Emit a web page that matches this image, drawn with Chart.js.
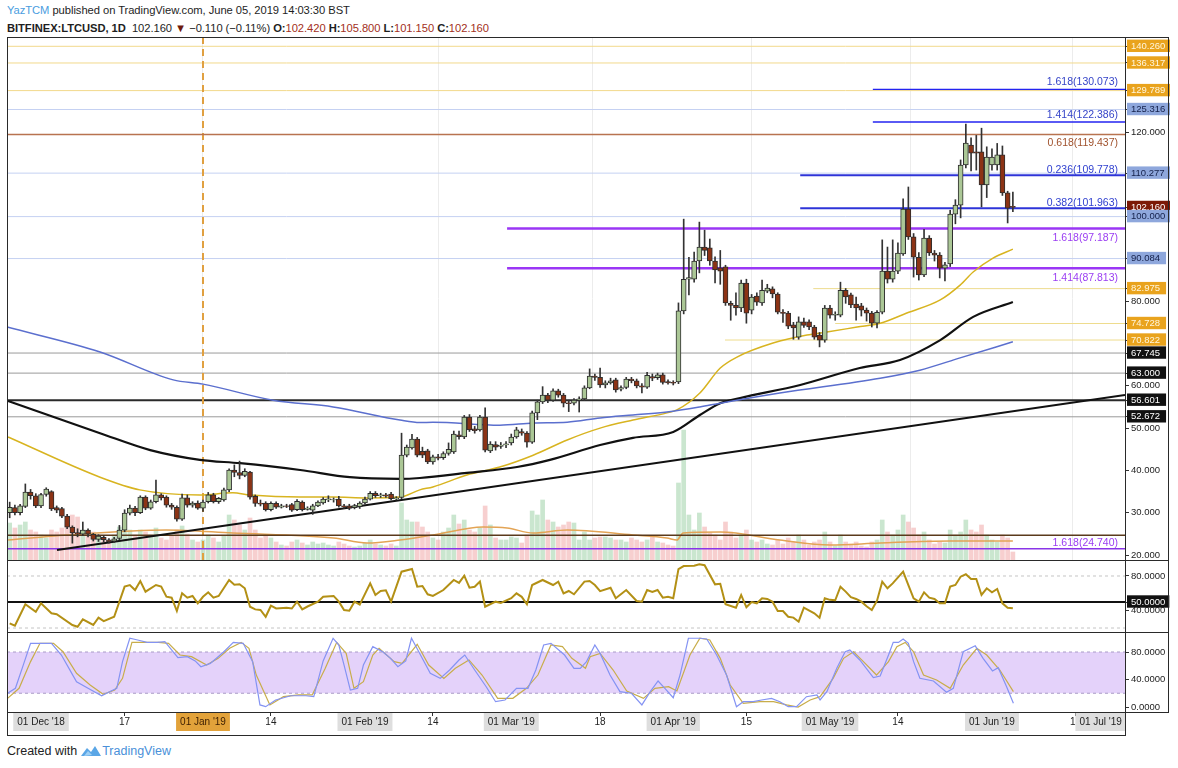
<!DOCTYPE html>
<html>
<head>
<meta charset="utf-8">
<title>LTCUSD 1D</title>
<script src="https://cdn.jsdelivr.net/npm/chart.js@4.4.1/dist/chart.umd.min.js"></script>
<style>
html,body{margin:0;padding:0;background:#fff;}
body{width:1178px;height:768px;position:relative;overflow:hidden;font-family:"Liberation Sans",Arial,sans-serif;}
.hdr{position:absolute;left:7px;white-space:nowrap;color:#1e1e1e;font-size:11.2px;line-height:14px;letter-spacing:-0.05px;}
#h1{top:3px;}
#h2{top:21px;}
.r{color:#a3301c;}
canvas{position:absolute;left:0;}
.ln{position:absolute;background:#2a2a2a;z-index:5;}
#foot{position:absolute;left:7px;top:743px;font-size:12.5px;color:#222;white-space:nowrap;line-height:16px;}
#foot svg{vertical-align:-3px;margin-left:3px;}
</style>
</head>
<body>
<div id="h1" class="hdr"><span style="color:#4a9de0">YazTCM</span> published on TradingView.com, June 05, 2019 14:03:30 BST</div>
<div id="h2" class="hdr"><b>BITFINEX:LTCUSD, 1D</b>&nbsp; 102.160 <span style="color:#6e1a0c">&#9660;</span> &minus;0.110 (&minus;0.11%) <b>O:</b><span class="r">102.420</span> <b>H:</b><span class="r">105.800</span> <b>L:</b><span class="r">101.150</span> <b>C:</b><span class="r">102.160</span></div>

<canvas id="cp" width="1178" height="523" style="top:37px"></canvas>
<canvas id="cr" width="1178" height="72" style="top:560px"></canvas>
<canvas id="cs" width="1178" height="103" style="top:632px"></canvas>

<div class="ln" style="left:7px;top:37px;width:1162px;height:1px"></div>
<div class="ln" style="left:7px;top:37px;width:1px;height:699px"></div>
<div class="ln" style="left:1168px;top:37px;width:1px;height:676px"></div>
<div class="ln" style="left:1125px;top:37px;width:1px;height:699px"></div>
<div class="ln" style="left:7px;top:560px;width:1162px;height:1px"></div>
<div class="ln" style="left:7px;top:632px;width:1162px;height:1px"></div>
<div class="ln" style="left:7px;top:712px;width:1162px;height:1px"></div>
<div class="ln" style="left:7px;top:735px;width:1119px;height:1px"></div>

<div id="foot">Created with<svg width="22" height="14" viewBox="0 0 22 14"><path d="M1 12 L7 4 L11 8 L15 2 L21 12 Z" fill="#5aa6e6"/><path d="M4 12 L8 7 L12 11 Z" fill="#9fd0f5"/></svg><span style="color:#4a90d9">TradingView</span></div>

<script>
// ---------------- DATA ----------------
// day index 0 = 01 Dec 2018; first candle = 25 Nov 2018 (day -6)
const FIRST_DAY = -6;
const open = [
30.0,31.2,30.0,31.5,34.9,34.0,31.6,34.3,35.0,31.2,31.0,29.2,26.6,25.3,24.9,25.9,24.9,23.7,24.2,23.6,23.3,23.9,25.9,29.9,31.1,30.0,33.7,31.1,32.6,34.2,33.7,31.8,31.3,28.5,33.5,31.8,32.3,31.1,32.6,34.2,32.6,33.0,35.4,40.1,39.5,38.8,39.6,33.9,32.3,32.3,30.7,32.2,31.3,31.6,31.9,30.7,32.5,30.8,30.6,31.6,32.3,33.0,33.0,33.2,31.6,31.6,31.2,31.4,32.3,33.2,34.6,34.0,34.2,34.4,33.3,33.6,43.6,45.3,47.4,44.5,44.6,42.0,43.2,43.0,44.0,44.4,48.4,47.9,52.6,49.8,49.6,52.6,44.6,46.1,45.7,46.0,46.5,47.9,49.2,48.8,46.7,53.6,56.2,57.8,56.6,58.8,57.8,56.0,55.9,56.6,56.9,59.5,62.3,62.0,60.2,60.7,61.4,59.2,59.6,61.6,61.2,60.0,59.7,62.2,61.9,62.6,61.0,60.8,60.9,77.7,85.2,85.2,89.5,92.8,92.6,89.5,87.9,88.1,79.5,79.0,78.4,84.3,77.9,81.2,79.6,82.4,82.9,81.7,77.4,77.2,74.4,71.5,75.1,75.1,73.9,72.0,70.8,78.4,76.7,76.7,82.6,81.5,79.3,78.9,77.9,77.2,74.8,77.4,87.1,85.2,87.1,91.2,101.8,95.2,90.4,86.2,94.9,91.4,90.9,87.8,88.8,100.6,102.7,112.2,116.9,115.3,115.3,107.5,112.2,112.2,114.6,105.6,102.42];
const high = [
32.5,31.8,32.0,36.8,35.5,34.5,34.6,35.9,35.2,31.6,31.3,29.6,26.9,26.2,27.8,26.2,25.1,24.8,24.6,23.9,24.2,27.0,30.7,31.8,31.5,34.0,34.0,33.0,37.7,34.5,34.0,32.2,31.6,34.4,34.2,32.6,32.8,33.0,34.8,34.6,33.6,35.8,40.4,41.3,42.2,40.4,39.8,34.2,33.0,32.6,32.6,32.6,32.0,32.0,32.2,33.1,32.8,31.4,32.0,32.8,33.6,34.0,33.5,33.9,32.0,32.0,32.0,32.6,33.7,35.0,35.0,34.6,34.6,34.8,33.8,48.8,46.0,48.5,47.8,45.5,45.0,43.6,43.8,44.4,46.5,49.3,49.3,53.0,53.2,50.4,53.0,54.8,46.8,46.8,46.6,46.8,48.6,50.2,49.8,49.2,54.0,56.6,59.8,58.2,59.3,59.2,58.2,56.6,57.0,57.4,60.0,64.0,62.8,64.2,61.2,61.8,61.8,60.0,62.0,62.0,61.6,60.5,63.2,62.8,63.0,63.0,61.4,61.2,79.6,99.4,90.4,91.6,98.7,96.8,94.7,90.5,92.0,88.5,80.0,82.0,85.0,85.2,81.6,82.0,85.0,84.0,83.4,82.0,78.0,77.6,75.0,76.3,76.0,75.6,74.3,72.6,79.0,79.0,77.5,84.5,83.0,81.9,81.0,79.5,78.4,77.6,77.8,94.5,92.8,94.5,93.8,104.2,107.0,96.0,91.5,97.0,95.5,92.0,91.5,89.2,101.5,104.0,113.4,121.9,118.6,119.2,120.9,116.5,116.0,117.3,116.7,106.0,105.8];
const low = [
28.8,29.5,29.5,31.2,33.2,31.2,31.2,33.9,30.5,30.0,28.8,26.2,22.8,24.3,24.6,24.3,23.3,23.2,23.1,22.8,23.0,23.6,25.5,29.5,29.3,29.8,30.7,30.8,32.3,33.0,31.3,30.8,28.0,28.2,31.3,31.3,30.8,30.3,32.3,32.3,32.2,32.7,35.0,38.5,38.0,38.5,33.2,31.5,31.6,30.4,30.4,31.0,31.1,31.2,30.3,30.5,30.4,30.6,29.6,31.4,32.0,32.6,32.5,31.3,31.0,30.7,30.9,31.0,32.0,33.0,33.6,33.6,33.6,33.0,33.0,33.3,43.2,45.0,43.2,43.0,41.6,41.5,42.5,42.6,43.6,44.0,47.4,47.5,49.2,48.8,49.3,44.4,44.2,44.8,45.2,45.4,46.0,47.6,48.3,45.5,46.4,52.0,55.8,56.0,56.3,57.3,55.0,53.9,55.5,53.8,56.5,59.3,61.3,59.6,59.5,60.4,58.5,58.8,59.3,60.7,59.5,58.3,59.4,61.2,61.5,60.4,60.4,60.2,60.5,77.0,81.5,84.5,86.7,90.8,88.5,84.3,84.0,79.0,75.5,76.7,77.5,74.8,77.0,79.0,79.0,82.0,80.8,77.0,75.0,73.5,71.0,71.0,73.8,73.3,71.0,69.2,70.3,76.0,75.5,76.3,79.5,78.5,75.5,76.5,75.3,73.9,73.7,77.0,84.3,84.5,86.5,90.8,94.6,85.7,85.0,85.8,90.8,89.5,85.5,84.8,88.2,98.3,99.7,111.5,110.8,111.0,102.3,104.5,111.0,111.0,105.0,98.5,101.15];
const close = [
31.3,30.0,31.6,34.9,34.0,31.6,34.3,35.6,30.9,30.6,29.2,26.6,25.2,24.9,25.9,24.9,23.7,24.5,23.6,23.1,23.8,25.9,29.9,31.1,30.0,33.7,31.1,32.6,34.2,33.5,31.8,31.3,28.5,33.5,31.8,32.3,31.1,32.5,34.2,32.6,33.4,35.4,40.1,39.5,38.8,39.8,33.7,32.2,32.0,30.7,32.2,31.3,31.6,31.5,30.6,32.7,30.7,31.1,31.6,32.5,33.2,33.3,33.1,31.6,31.4,31.1,31.7,32.3,33.2,34.6,34.0,34.2,33.9,33.3,33.5,43.6,45.5,47.4,43.6,43.6,42.0,43.2,42.9,44.0,45.0,48.6,48.0,52.6,49.6,49.4,52.6,44.8,46.2,45.5,46.0,46.3,47.9,49.6,48.8,46.7,53.6,56.2,57.8,56.6,58.8,57.8,55.9,55.8,56.6,56.9,59.5,62.3,62.0,60.2,60.7,61.2,59.0,59.6,61.6,61.2,60.0,59.7,62.5,61.8,62.6,60.8,60.7,60.6,77.7,85.2,85.6,89.5,92.8,92.0,89.5,87.4,87.1,79.6,79.0,78.4,84.3,77.2,81.0,79.8,82.6,83.1,81.7,77.4,77.1,74.1,73.7,75.1,74.3,73.9,71.5,70.8,78.4,76.7,76.9,82.6,81.0,79.1,78.4,77.9,77.2,74.8,77.4,87.1,85.2,87.1,91.4,101.8,95.2,90.4,86.2,94.9,91.4,90.9,87.8,88.6,100.6,102.7,112.2,117.4,115.0,115.0,107.5,114.1,114.1,114.6,105.6,102.0,102.16];
const volume = [
37,32,35,38,30,28,25,
22,30,28,32,40,45,43,30,25,28,
22,20,18,25,33,35,30,25,30,28,
25,32,22,20,24,30,34,26,20,18,
20,25,22,18,24,45,40,35,30,42,
30,22,25,22,18,15,14,18,20,17,
15,18,16,17,15,14,18,16,14,13,
14,17,20,16,15,14,16,14,57,40,
38,38,33,28,22,20,28,32,45,36,
40,30,28,32,54,35,22,20,20,23,
22,17,25,49,45,60,40,38,33,35,
38,37,20,28,20,22,23,23,22,20,
20,18,22,20,18,20,23,18,17,15,
14,77,130,45,30,47,33,27,25,20,
38,28,22,25,30,20,18,20,16,15,
20,16,22,18,25,20,15,18,20,28,
18,14,25,18,16,18,14,13,18,20,
40,28,25,30,45,38,32,25,28,20,
16,18,17,30,25,28,40,30,28,35,
25,20,18,25,22,8];

// moving averages [day, value]
const ma50 = [[-6.3,47.9],[11.3,38.4],[18.9,35.4],[30.4,34.2],[36.7,34.7],[40,34.2],[49.6,33.7],[55.9,33.7],[62.4,33.5],[68.7,33.7],[72.5,35.4],[75,36.1],[81.5,38.9],[87.8,40.8],[94.2,43.6],[100.7,47.2],[107,50.0],[113.3,51.9],[119.8,53.6],[121.7,54.3],[126.1,58.3],[130,64.2],[133.2,66.8],[140.1,70.1],[146.6,72.0],[150.4,72.7],[156.2,73.9],[160.6,74.8],[165.7,77.2],[172.1,80.3],[175.9,83.8],[178.4,86.9],[182.2,90.2],[186,92.3]];
const ma100 = [[-6.3,56.4],[11.3,48.8],[20.9,44.8],[30.4,42.5],[38.1,41.7],[49.6,40.1],[59.1,38.4],[68.7,38.0],[72.5,38.2],[81.5,39.4],[91.1,40.8],[97.4,42.5],[107,46.0],[113.3,47.7],[121,49.1],[126.1,53.1],[130,55.9],[133.8,57.1],[145.3,60.2],[156.7,64.2],[164.4,66.1],[172.1,70.8],[178.4,76.3],[186,79.8]];
const ma200 = [[-6.5,73.9],[11.3,68.0],[25.3,61.4],[31,60.4],[44.4,56.6],[55.9,55.0],[68.7,51.9],[72.5,51.3],[75,51.4],[87.8,50.7],[94.2,51.2],[100.7,51.4],[107,52.4],[113.3,53.1],[119.8,53.8],[126.1,55.0],[130,55.9],[141.4,58.3],[160.6,61.8],[168.2,63.7],[175.9,66.6],[186,70.4]];
const volMa = [[-6.3,20],[5,25],[24,30],[36.7,27],[56,22],[62.4,17],[68.7,20],[75,25],[84.6,33],[89.2,32],[94.2,27],[100.7,30],[113.3,25],[119.8,22],[121.7,20],[122.9,27],[130,28],[141.4,20],[151,15],[160.6,17],[174,19],[186,19]];
const trendline = [[3.06,21.2],[207.46,57.8]];

// horizontal levels (value, first day)
const levelValues = [140.26,136.317,129.789,125.316,110.277,100.0,90.084,82.975,74.728,70.822,67.745,63.0,56.601,52.672,119.437,130.073,122.386,109.778,101.963,97.187,87.813,24.7,21.5];
const levelStart  = [-6.51,-6.51,-6.51,-6.51,-6.51,-6.51,-6.51,147.8,152,130.9,-6.51,-6.51,-6.51,-6.51,-6.51,159.2,159.2,145.3,145.3,89.2,89.2,-6.51,-6.51];
const fibTexts  = ['1.618(130.073)','1.414(122.386)','0.618(119.437)','0.236(109.778)','0.382(101.963)','1.618(97.187)','1.414(87.813)','1.618(24.740)'];
const fibValues = [130.073,122.386,119.437,109.778,101.963,97.187,87.813,21.5];
const JAN1 = 31;

const priceTicks = [140.26,136.317,129.789,125.316,120,110.277,102.16,100,90.084,82.975,80,74.728,70.822,67.745,63,60,56.601,52.672,50,40,30,20];
const rsiTicks = [80,40,50];
const stochTicks = [80,40,0];
const xTickDays = [0,16,31,44,62,75,90,107,121,135,151,164,182,198,202.8];
const xTickLabels = ["01 Dec '18","17","01 Jan '19","14","01 Feb '19","14","01 Mar '19","18","01 Apr '19","15","01 May '19","14","01 Jun '19","17","01 Jul '19"];
const monthGridDays = [0,62,90,121,151,182];

const rsi = [[-6,25.4],[-5,22.7],[-3,47.4],[-1,38.8],[0,48.5],[2,37],[3,36],[6,23.5],[7,21.5],[8,30],[10,23.5],[11,31.9],[12,28],[14,33],[16,67.7],[17,69.6],[18,63.8],[19,74.2],[20,61.9],[22,69.6],[23,67.7],[24,56.1],[25,55],[26,39.6],[27,60],[28,55],[29,57],[30,48.5],[31,56],[32,61.2],[33,55],[34,57],[36,75.4],[37,70],[38,70.5],[39,65.8],[40,44.6],[41,41.5],[42,40.8],[43,33],[44,45.7],[45,42.5],[47,43.5],[48,42.5],[49,50.4],[50,41.5],[51,44.8],[53,50.4],[54,56.1],[56,57],[57,50.4],[58,40.8],[59,40],[60,50.4],[61,47],[63,71.6],[64,58.1],[65,62.7],[66,63.5],[67,50.4],[69,85],[71,88],[72,67.7],[73,68.5],[74,58.9],[75,57],[77,63.8],[79,75.4],[80,72],[81,80.4],[82,66.5],[83,67.5],[84,73.5],[85,44.6],[87,50.4],[88,49],[90,54.3],[91,60],[92,56],[93,47.4],[94,69.6],[96,75.4],[98,69.6],[99,73.5],[100,60],[101,62.7],[102,58.9],[104,73.5],[105,74.2],[106,69.6],[107,62.5],[109,66.5],[110,54.3],[112,63.8],[114,51.2],[115,50.4],[116,63.8],[117,61.5],[118,63.8],[119,55],[120,56],[121,54.3],[122,88],[123,91.5],[125,91.8],[126,93.5],[127,92.5],[129,70.4],[130,71],[131,47.4],[133,43.4],[134,58.1],[135,43.9],[136,50],[137,48.5],[138,54.3],[139,53.5],[140,50.4],[141,39.6],[142,39.6],[143,33],[144,32],[145,27.3],[146,43.4],[148,37],[149,31.9],[150,54.3],[151,52.5],[152,52],[153,67.7],[154,62],[155,55.5],[156,53.5],[157,50.4],[158,45],[159,40.8],[160,51.5],[161,73.5],[162,65.8],[163,71.5],[165,85],[166,69.6],[167,54.3],[168,50.4],[169,61.2],[170,55],[171,53.5],[172,48.5],[173,48.5],[174,67.7],[175,69.6],[176,79.2],[177,82],[178,76.5],[179,76.5],[180,58.1],[181,65.8],[182,61.2],[183,65],[184,48.5],[185,43.4],[186,42.7]];
const stochK = [[-6.4,20],[-4.9,27.2],[-3.4,61],[-2,92.6],[-0.5,92.6],[2,92.6],[3.9,75.6],[5.7,51.4],[6.8,36.8],[9,27.2],[11.6,16.4],[13.4,23.3],[14.5,27.2],[15.6,66],[17,100],[18.5,97.5],[20.3,94],[22.2,94],[23.7,95],[26.2,71.7],[28,73.2],[29.5,67],[30.6,58.6],[32.4,63.5],[33.9,73.2],[35,80.4],[36.8,94],[38.7,92.6],[40.5,66],[41.9,3],[43,0.5],[44.9,10.2],[47.8,16.4],[50.7,16.4],[52.2,15],[54,67],[55.9,100],[57,90],[58,61],[59.2,24.7],[60.6,27.2],[61.7,61],[63.5,87.8],[65.4,80.4],[66.9,70.8],[68.3,58.6],[69.8,67],[70.9,100],[72.3,80.4],[74.5,49],[76.4,41.7],[78.2,53.8],[80,68.4],[81.1,75.6],[83,53.8],[85.2,29.5],[87,7.7],[88.8,10.2],[91,27.2],[93.2,27.2],[94.7,53.8],[96.2,90.2],[97.6,92.6],[100.2,75.6],[102,56.3],[103.2,56.3],[104.4,66],[106,90.2],[107,78],[108.9,46.5],[110.8,22.3],[113,20],[115,3],[116.6,22.3],[118.1,37.8],[119.4,27.2],[121,13.5],[122.3,46.5],[123.9,100],[126.1,100],[127.4,99],[129.3,75.6],[131.2,46.5],[133.1,0.5],[134.4,7.7],[136.3,7.7],[137.9,10.2],[139.8,12.6],[141.4,7.7],[143,0.5],[144.6,0.5],[146.5,15],[148.5,17.5],[149.1,10.2],[150.4,22.3],[152.3,56.3],[153.9,80.4],[154.8,82.9],[156.7,68.4],[159.3,42.7],[160.6,45],[162.2,75.6],[163.1,94],[164.1,94],[165,98.9],[166,92.6],[167,66],[168.2,41.7],[170.8,37.8],[173.3,21.4],[174.6,27.2],[176.5,80.4],[178.8,89],[180.3,70.8],[182.1,52.4],[183.2,57.2],[184.8,29.5],[186.1,5.4]];
const stochD = [[-6.4,12.6],[-4.2,27.2],[-2,66],[-0.2,92.6],[2.4,92.6],[4.2,80.4],[6.8,49],[9.4,32],[11.9,18.4],[14.1,24.7],[15.6,41.7],[17.4,94],[19.6,94],[22.5,94],[24.4,92.6],[26.6,75.6],[28.8,73.2],[31.7,61],[33.9,70.8],[36.1,85.4],[38.3,94],[39.8,85.4],[41.2,46.5],[43.8,3],[46.4,15],[49.3,17.5],[51.9,17.5],[54.4,56.3],[56.6,94],[58.4,78],[59.9,27.2],[61.7,36.8],[63.5,75.6],[64.7,85.4],[67.6,66],[69.1,63.5],[72,91.2],[74.2,61],[77.1,41.7],[79.3,56.3],[81.9,68.4],[84.4,46.5],[87.4,12.6],[90.3,12.6],[92.9,27.2],[95.1,46.5],[97.6,90.2],[99.8,87.8],[101.6,70.8],[104.2,56.3],[105.1,73.2],[107,78],[109.5,53.8],[112.1,23.3],[115.3,12.6],[117.5,27.2],[120.1,29.5],[121.7,23.3],[124.2,75.6],[126.1,100],[128,97.5],[130,70.8],[131.9,32],[134.4,5.4],[137.6,7.7],[140.2,7.7],[142.7,3],[144.9,0],[147.2,10.2],[149.1,15],[151.6,41.7],[153.6,70.8],[155.5,80.4],[157.4,66],[159.9,46.5],[162.2,66],[163.8,87.8],[165.4,94],[167,80.4],[168.9,46.5],[171.4,39.3],[174,27.2],[176.5,61],[179.1,85.4],[181,75.6],[183.5,53.8],[186.1,22.3]];

// ---------------- STYLE ----------------
const X_MIN = -6.51, X_MAX = 207.46;
const FONT = '"Liberation Sans", Arial, sans-serif';
const levelColors = ['#f2d98c','#f2d98c','#f2d98c','#c5d1f2','#c5d1f2','#c5d1f2','#c5d1f2','#eedc8e','#eedc8e','#eedc8e','#9a9a9a','#9a9a9a','#2a2a2a','#9a9a9a','#b87350','#2323f0','#2323f0','#2e34d8','#2e34d8','#9a36f5','#9a36f5','#5a3a1c','#8a35e8'];
const levelWidths = [1,1,1,1,1,1,1,1,1,1,1,1,2,1,1.5,1.2,1.5,2,2,2.5,2.5,1.5,1.5];
const levelOrders = [16,16,16,16,16,16,16,16,16,16,16,16,16,16,14,14,14,14,14,14,14,15,15];
const fibColors  = ['#3544c8','#3544c8','#a0522d','#2f3fcf','#2f3fcf','#9a3df2','#9a3df2','#9a3df2'];
const fibOffsets = [-7,-7,9,-5,-5,10,10,-6];

function tickBox(v){
  if ([140.26,136.317,129.789,82.975,74.728,70.822].includes(v)) return ['#e9a31d','#fff6dc'];
  if ([125.316,110.277,100,90.084].includes(v)) return ['#8ea7dc','#14204a'];
  if (v === 102.16) return ['#7c1a06','#ffffff'];
  if ([67.745,63,56.601,52.672].includes(v)) return ['#111111','#ffffff'];
  return ['rgba(0,0,0,0)','#222'];
}
function fitY(s){ s.width = 45; s.paddingTop = 0; s.paddingBottom = 0; }
const baseOpts = {
  responsive:false, animation:false, devicePixelRatio:1, events:[],
  layout:{padding:{left:7,right:8,top:0,bottom:0}},
  plugins:{legend:{display:false}, tooltip:{enabled:false}}
};
function pts(a){ return a.map(p => ({x:p[0], y:p[1]})); }
function lineDs(points, color, width, extra){
  return Object.assign({type:'line', data:pts(points), borderColor:color, borderWidth:width,
    pointRadius:0, fill:false, tension:0, yAxisID:'y'}, extra || {});
}

// ---------------- PRICE PANEL ----------------
const days = open.map((_, i) => FIRST_DAY + i);
const isUp = days.map((_, i) => close[i] >= open[i]);

const fibTextPlugin = {
  id:'fibText',
  afterDatasetsDraw(chart){
    const {ctx} = chart; const y = chart.scales.y;
    ctx.save();
    ctx.font = '10.5px ' + FONT;
    ctx.textAlign = 'right'; ctx.textBaseline = 'middle';
    fibTexts.forEach((t, i) => {
      ctx.fillStyle = fibColors[i];
      ctx.fillText(t, chart.chartArea.right - 7, y.getPixelForValue(fibValues[i]) + fibOffsets[i]);
    });
    ctx.restore();
  }
};

const priceDatasets = [
  {type:'bar', data:days.map((d,i)=>({x:d, y:volume[i]})), yAxisID:'yv',
   backgroundColor:isUp.map(u => u ? 'rgba(150,205,160,0.5)' : 'rgba(240,160,160,0.5)'),
   barThickness:4, grouped:false, order:20},
  lineDs(volMa, '#e3a455', 1.5, {yAxisID:'yv', order:19, cubicInterpolationMode:'monotone'}),
  ...levelValues.map((v,i) => lineDs([[levelStart[i], v],[X_MAX, v]], levelColors[i], levelWidths[i], {order:levelOrders[i]})),
  lineDs([[JAN1,18.82],[JAN1,142.46]], '#e0a040', 2, {borderDash:[7,5], order:15}),
  lineDs(trendline, '#111', 2, {order:12}),
  lineDs(ma200, '#5b6fce', 1.5, {order:11, cubicInterpolationMode:'monotone'}),
  lineDs(ma100, '#111', 2.2, {order:11, cubicInterpolationMode:'monotone'}),
  lineDs(ma50, '#d8b420', 1.5, {order:11, cubicInterpolationMode:'monotone'}),
  {type:'bar', data:days.map((d,i)=>({x:d, y:[low[i], high[i]]})), yAxisID:'y',
   backgroundColor:'#333', barThickness:1, grouped:false, order:2},
  {type:'bar', data:days.map((d,i)=>({x:d, y:[open[i], close[i]]})), yAxisID:'y',
   backgroundColor:isUp.map(u => u ? '#abc796' : '#8c3315'), borderColor:'#2e2e2e',
   borderWidth:1, borderSkipped:false, barThickness:5, grouped:false, order:1}
];

new Chart(document.getElementById('cp'), {
  type:'bar',
  data:{datasets:priceDatasets},
  options:Object.assign({}, baseOpts, {
    scales:{
      x:{type:'linear', min:X_MIN, max:X_MAX, offset:false, display:true,
         afterBuildTicks:s => { s.ticks = monthGridDays.map(v => ({value:v})); },
         ticks:{display:false}, grid:{color:'#ececec', drawTicks:false}, border:{display:false},
         afterFit:s => { s.height = 0; s.paddingLeft = 0; s.paddingRight = 0; }},
      y:{type:'linear', position:'right', min:18.82, max:142.46,
         afterBuildTicks:s => { s.ticks = priceTicks.map(v => ({value:v})); },
         ticks:{callback:v => Number(v).toFixed(3), font:{size:9.5, family:FONT}, padding:2, autoSkip:false,
                showLabelBackdrop:true,
                backdropColor:c => c.tick ? tickBox(c.tick.value)[0] : 'rgba(0,0,0,0)',
                color:c => c.tick ? tickBox(c.tick.value)[1] : '#222',
                backdropPadding:{top:1,bottom:0,left:4,right:6}},
         grid:{drawOnChartArea:false, drawTicks:true, tickLength:4, color:'#333'},
         border:{display:false}, afterFit:fitY},
      yv:{type:'linear', display:false, min:0, max:523}
    }
  }),
  plugins:[fibTextPlugin]
});

// ---------------- RSI PANEL ----------------
new Chart(document.getElementById('cr'), {
  type:'line',
  data:{datasets:[
    lineDs(rsi, '#b39015', 2, {order:1}),
    lineDs([[X_MIN,50],[X_MAX,50]], '#111', 2, {order:2}),
    lineDs([[X_MIN,80],[X_MAX,80]], '#c4c4c4', 1, {borderDash:[3,3], order:3}),
    lineDs([[X_MIN,20],[X_MAX,20]], '#c4c4c4', 1, {borderDash:[3,3], order:3})
  ]},
  options:Object.assign({}, baseOpts, {
    scales:{
      x:{type:'linear', min:X_MIN, max:X_MAX, display:false},
      y:{type:'linear', position:'right', min:15.4, max:98.45,
         afterBuildTicks:s => { s.ticks = rsiTicks.map(v => ({value:v})); },
         ticks:{callback:v => Number(v).toFixed(4), font:{size:9.5, family:FONT}, padding:2, autoSkip:false,
                showLabelBackdrop:true,
                backdropColor:c => (c.tick && c.tick.value === 50) ? '#111' : 'rgba(0,0,0,0)',
                color:c => (c.tick && c.tick.value === 50) ? '#fff' : '#222',
                backdropPadding:{top:1,bottom:0,left:4,right:4}},
         grid:{drawOnChartArea:false, drawTicks:true, tickLength:4, color:'#333'},
         border:{display:false}, afterFit:fitY}
    }
  })
});

// ---------------- STOCH RSI PANEL + TIME AXIS ----------------
function xBox(i){
  const l = xTickLabels[i] || '';
  if (l === "01 Jan '19") return ['#e2a23a','#3a1c00'];
  if (l.startsWith('01')) return ['#dedede','#222'];
  return ['rgba(0,0,0,0)','#222'];
}
new Chart(document.getElementById('cs'), {
  type:'line',
  data:{datasets:[
    lineDs(stochK, '#8493f3', 1.2, {order:1}),
    lineDs(stochD, '#c8ad4a', 1.2, {order:2}),
    lineDs([[X_MIN,80],[X_MAX,80]], '#a99bc6', 1, {borderDash:[3,3], order:5}),
    lineDs([[X_MIN,20],[X_MAX,20]], '#a99bc6', 1, {borderDash:[3,3], order:5, fill:'-1', backgroundColor:'#e4d2fa'})
  ]},
  options:Object.assign({}, baseOpts, {
    scales:{
      x:{type:'linear', position:'bottom', min:X_MIN, max:X_MAX, offset:false,
         afterBuildTicks:s => { s.ticks = xTickDays.map(v => ({value:v})); },
         ticks:{callback:(v,i) => xTickLabels[i], font:{size:10, family:FONT}, padding:0, autoSkip:false,
                maxRotation:0, minRotation:0, showLabelBackdrop:true,
                backdropColor:c => xBox(c.index)[0], color:c => xBox(c.index)[1],
                backdropPadding:{top:3,bottom:3,left:4,right:4}},
         grid:{drawOnChartArea:false, drawTicks:true, tickLength:4, color:'#333'},
         border:{display:false},
         afterFit:s => { s.height = 23; s.paddingLeft = 0; s.paddingRight = 0; }},
      y:{type:'linear', position:'right', min:-7.27, max:109.1,
         afterBuildTicks:s => { s.ticks = stochTicks.map(v => ({value:v})); },
         ticks:{callback:v => Number(v).toFixed(4), font:{size:9.5, family:FONT}, padding:2, autoSkip:false, color:'#222'},
         grid:{drawOnChartArea:false, drawTicks:true, tickLength:4, color:'#333'},
         border:{display:false}, afterFit:fitY}
    }
  })
});
</script>
</body>
</html>
